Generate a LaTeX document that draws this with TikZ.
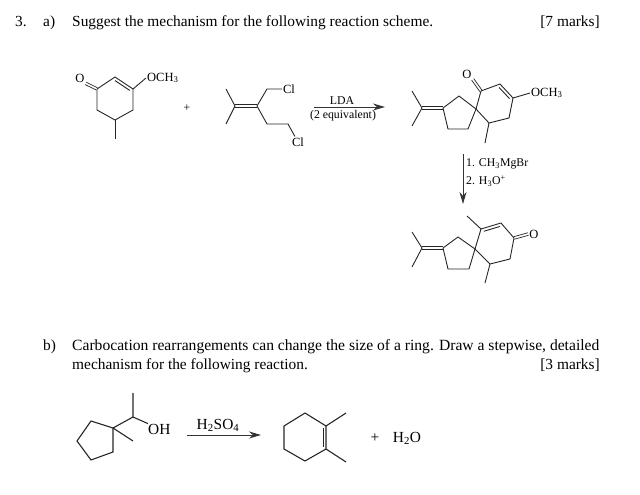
\documentclass[tikz,border=0pt]{standalone}
\usepackage{fontspec}
\setmainfont{Liberation Serif}
\usetikzlibrary{arrows.meta}
\usetikzlibrary{calc}
\tikzset{
    bond/.style={line width=0.9pt, black!85},
    rxn/.style={line width=1pt, black!80, -{Stealth[length=12pt,width=7pt]}},
    question/.style={inner sep=0pt, anchor=base west, font=\fontsize{15.4}{17}\selectfont},
    marks/.style={inner sep=0pt, anchor=base east, font=\fontsize{15.4}{17}\selectfont},
    atom/.style={inner sep=1pt, font=\fontsize{12.5}{14}\selectfont},
    reagent/.style={inner sep=0pt, font=\fontsize{11.8}{14}\selectfont},
    bigtext/.style={inner sep=0pt, font=\fontsize{15.4}{17}\selectfont}
}
\newcommand{\ringbond}[2]{\draw[bond, shorten <=2pt, shorten >=2pt] ($(#1)!3pt!-90:(#2)$) -- ($(#2)!3pt!90:(#1)$);}
\newcommand{\twobond}[2]{
    \draw[bond, line width=0.7pt] ($(#1)!1.3pt!-90:(#2)$) -- ($(#2)!1.3pt!90:(#1)$);
    \draw[bond, line width=0.7pt] ($(#1)!1.3pt!90:(#2)$) -- ($(#2)!1.3pt!-90:(#1)$);
}
\begin{document}
\begin{tikzpicture}[x=1pt, y=-1pt]
    \useasboundingbox (0,0) rectangle (640,495);
    % question text
    \node[question] (num) at (15,27) {3.};
    \node[question] (parta) at (43,27) {a)};
    \node[question] (qa) at (72,27) {Suggest the mechanism for the following reaction scheme.};
    \node[marks] (marksa) at (600,27) {[7 marks]};
    \node[question] (partb) at (43,350) {b)};
    \node[question, font=\fontsize{15.6}{17}\selectfont] (qb) at (72,350) {Carbocation rearrangements can change the size of a ring. Draw a stepwise, detailed};
    \node[question] (qc) at (72,369) {mechanism for the following reaction.};
    \node[marks] (marksb) at (600,369) {[3 marks]};

    % enone
    \coordinate (e1) at (97,89);
    \coordinate (e2) at (115,77);
    \coordinate (e3) at (133,89);
    \coordinate (e4) at (133,110);
    \coordinate (e5) at (115,120);
    \coordinate (e6) at (97,110);
    \coordinate (eme) at (115,139);
    \node[atom] (eo) at (80,78) {O};
    \node[atom, anchor=west] (eome) at (146,78) {OCH\textsubscript{3}};
    \draw[bond] (e1) -- (e2) -- (e3) -- (e4) -- (e5) -- (e6) -- (e1);
    \ringbond{e2}{e3}
    \twobond{e1}{eo.south east}
    \draw[bond] (e3) -- (eome.west);
    \draw[bond] (e5) -- (eme);
    \node[reagent] (plusa) at (187,108) {+};

    % dichloride
    \coordinate (d1) at (226,89);
    \coordinate (d2) at (226,124);
    \coordinate (d3) at (235,106);
    \coordinate (d4) at (257,106);
    \coordinate (d5) at (267,89);
    \coordinate (d6) at (267,124);
    \coordinate (d7) at (288,124);
    \node[atom] (dcla) at (289,89) {Cl};
    \node[atom] (dclb) at (298,142) {Cl};
    \draw[bond] (d1) -- (d3);
    \draw[bond] (d2) -- (d3);
    \twobond{d3}{d4}
    \draw[bond] (d4) -- (d5) -- (dcla);
    \draw[bond] (d4) -- (d6) -- (d7) -- (dclb);

    % first arrow
    \coordinate (ra) at (314,107);
    \coordinate (rb) at (385,107);
    \draw[rxn] (ra) -- (rb);
    \node[reagent] (lda) at (342,101) {LDA};
    \node[reagent] (equiv) at (343,116) {(2 equivalent)};

    % spiro product
    \coordinate (p1) at (412,91);
    \coordinate (p2) at (412,126);
    \coordinate (p3) at (422,108);
    \coordinate (p4) at (443,108);
    \coordinate (p5) at (459,96);
    \coordinate (p6) at (476,109);
    \coordinate (p7) at (468,129);
    \coordinate (p8) at (448,129);
    \coordinate (p9) at (481,91);
    \coordinate (p10) at (500,84);
    \coordinate (p11) at (513,98);
    \coordinate (p12) at (509,118);
    \coordinate (p13) at (489,123);
    \coordinate (p14) at (485,143);
    \node[atom] (po) at (467,74) {O};
    \node[atom, anchor=west] (pome) at (530,93) {OCH\textsubscript{3}};
    \draw[bond] (p1) -- (p3);
    \draw[bond] (p2) -- (p3);
    \twobond{p3}{p4}
    \draw[bond] (p4) -- (p5) -- (p6) -- (p7) -- (p8) -- (p4);
    \draw[bond] (p6) -- (p9) -- (p10) -- (p11) -- (p12) -- (p13) -- (p6);
    \ringbond{p10}{p11}
    \twobond{p9}{po.south east}
    \draw[bond] (p11) -- (pome.west);
    \draw[bond] (p13) -- (p14);

    % second arrow
    \coordinate (sa) at (463,154);
    \coordinate (sb) at (463,204);
    \draw[rxn] (sa) -- (sb);
    \node[reagent, anchor=west] (grig) at (466,164) {1. CH\textsubscript{3}MgBr};
    \node[reagent, anchor=west] (acid) at (466,181) {2. H\textsubscript{3}O\textsuperscript{+}};

    % final product
    \coordinate (f1) at (412,232);
    \coordinate (f2) at (412,267);
    \coordinate (f3) at (422,248);
    \coordinate (f4) at (443,248);
    \coordinate (f5) at (458,237);
    \coordinate (f6) at (475,249);
    \coordinate (f7) at (469,269);
    \coordinate (f8) at (448,269);
    \coordinate (f9) at (481,229);
    \coordinate (f10) at (467,216);
    \coordinate (f11) at (501,223);
    \coordinate (f12) at (514,238);
    \coordinate (f13) at (510,259);
    \coordinate (f14) at (490,264);
    \coordinate (f15) at (485,283);
    \node[atom] (fo) at (534,234) {O};
    \draw[bond] (f1) -- (f3);
    \draw[bond] (f2) -- (f3);
    \twobond{f3}{f4}
    \draw[bond] (f4) -- (f5) -- (f6) -- (f7) -- (f8) -- (f4);
    \draw[bond] (f6) -- (f9) -- (f11) -- (f12) -- (f13) -- (f14) -- (f6);
    \ringbond{f9}{f11}
    \draw[bond] (f9) -- (f10);
    \twobond{f12}{fo.west}
    \draw[bond] (f14) -- (f15);

    % alcohol
    \coordinate (a1) at (113,428);
    \coordinate (a2) at (91,421);
    \coordinate (a3) at (77,441);
    \coordinate (a4) at (91,460);
    \coordinate (a5) at (113,452);
    \coordinate (a6) at (133,441);
    \coordinate (a7) at (133,417);
    \coordinate (a8) at (133,393);
    \node[bigtext, anchor=west] (aoh) at (148,429) {OH};
    \draw[bond, line width=1.1pt] (a1) -- (a2) -- (a3) -- (a4) -- (a5) -- (a1);
    \draw[bond, line width=1.1pt] (a1) -- (a6);
    \draw[bond, line width=1.1pt] (a1) -- (a7) -- (a8);
    \draw[bond, line width=1.1pt] (a7) -- (aoh.north west);

    % third arrow
    \coordinate (ta) at (187,435);
    \coordinate (tb) at (261,435);
    \draw[rxn] (ta) -- (tb);
    \node[bigtext] (sulf) at (218,425) {H\textsubscript{2}SO\textsubscript{4}};

    % cyclohexene
    \coordinate (c1) at (305,413);
    \coordinate (c2) at (284,426);
    \coordinate (c3) at (284,449);
    \coordinate (c4) at (305,461);
    \coordinate (c5) at (326,449);
    \coordinate (c6) at (326,426);
    \coordinate (c7) at (346,413);
    \coordinate (c8) at (346,462);
    \draw[bond, line width=1.1pt] (c1) -- (c2) -- (c3) -- (c4) -- (c5) -- (c6) -- (c1);
    \ringbond{c6}{c5}
    \draw[bond, line width=1.1pt] (c6) -- (c7);
    \draw[bond, line width=1.1pt] (c5) -- (c8);
    \node[bigtext] (plusb) at (375,438) {+};
    \node[bigtext] (water) at (407,438) {H\textsubscript{2}O};
\end{tikzpicture}
\end{document}
